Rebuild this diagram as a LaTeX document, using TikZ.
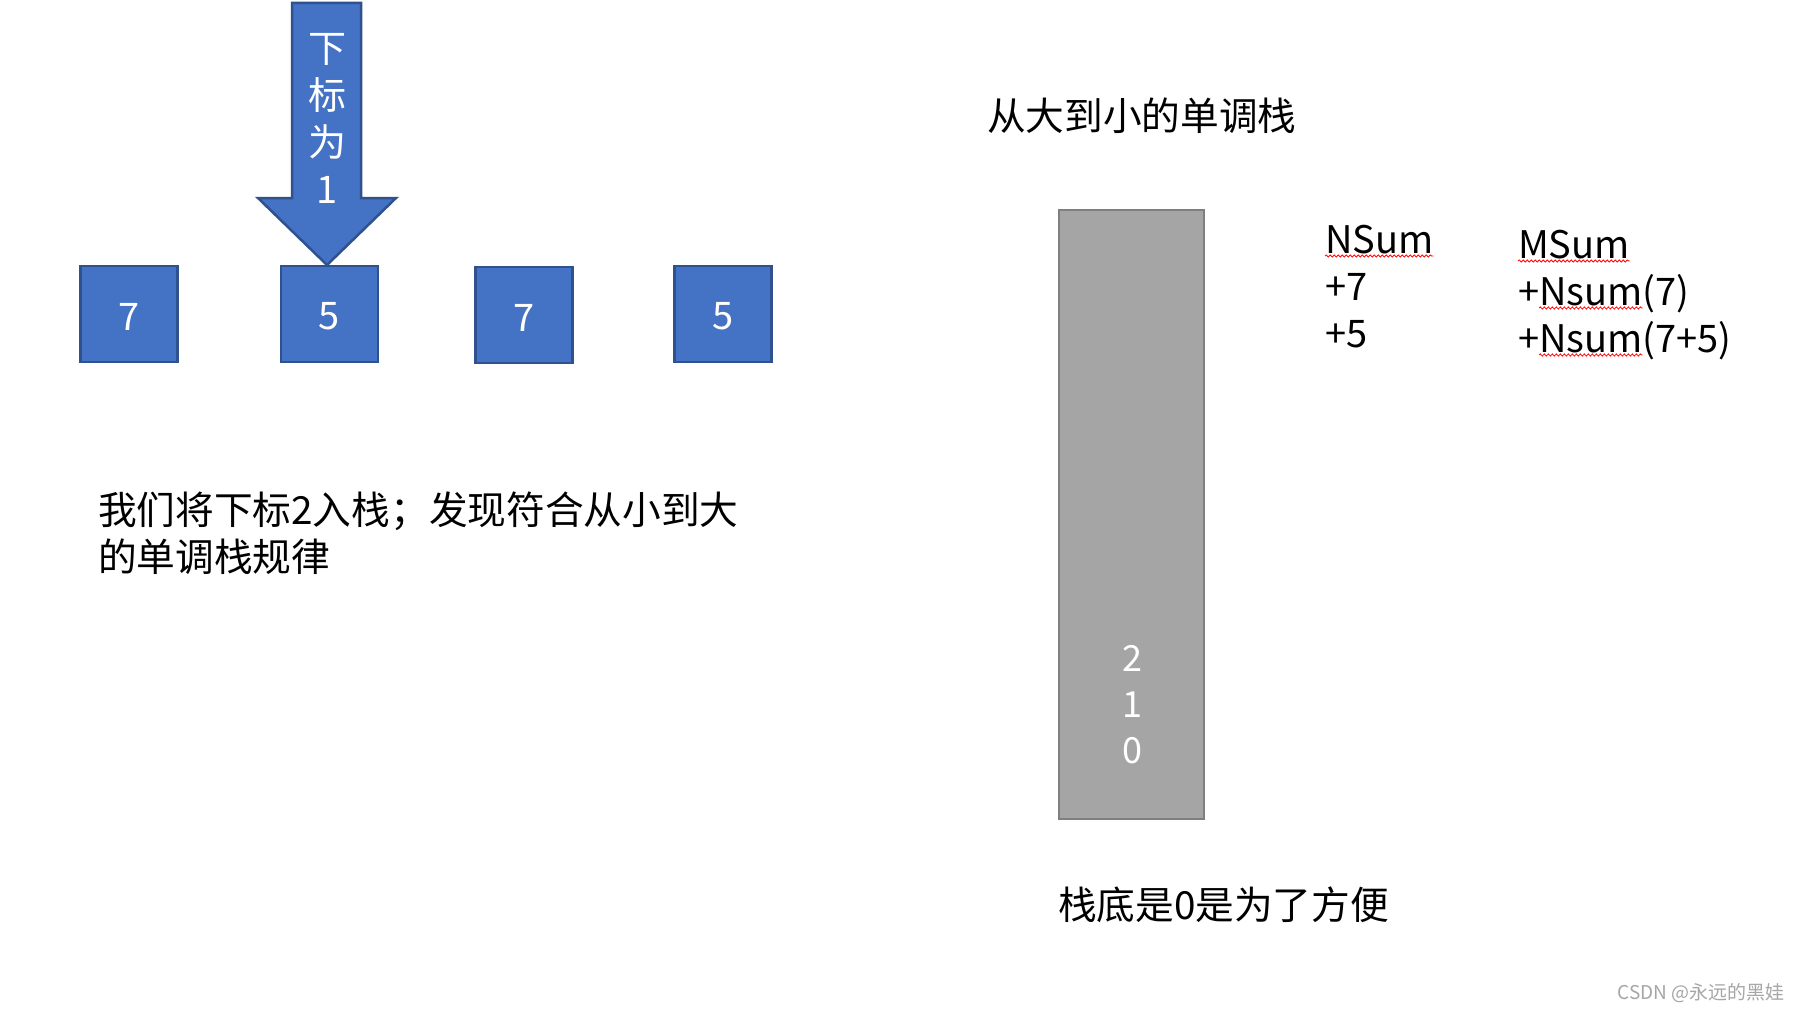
\documentclass[tikz,border=0pt]{standalone}
\usepackage{fontspec}
\setmainfont{Noto Sans CJK SC}
\usetikzlibrary{decorations.pathmorphing}
\definecolor{boxblue}{HTML}{4472C4}
\definecolor{boxedge}{HTML}{2F528F}
\definecolor{stackgray}{HTML}{A5A5A5}
\definecolor{stackedge}{HTML}{7F7F7F}
\definecolor{wmgray}{HTML}{A6A6A6}
\newcommand\lowered[1]{\raisebox{-2.5pt}[\height][\depth]{#1}}
\begin{document}
\begin{tikzpicture}[x=1pt,y=-1pt,
  numbox/.style={draw=boxedge,fill=boxblue,line width=2.5pt,minimum width=97pt,minimum height=96pt,inner sep=0pt,text=white,font=\fontsize{38}{47}\selectfont},
  txt/.style={inner sep=0pt,outer sep=0pt,font=\fontsize{38}{47}\selectfont,text=black},
  cjktxt/.style={inner sep=0pt,outer sep=0pt,font=\fontsize{38.7}{47}\selectfont,text=black},
  wtxt/.style={inner sep=0pt,outer sep=0pt,font=\fontsize{37}{46}\selectfont,text=white,align=center},
  wavy/.style={draw=red,line width=0.8pt,decorate,decoration={snake,amplitude=1.1pt,segment length=4pt}}
]
\path[use as bounding box,fill=white] (0,0) rectangle (1803,1014);

% value boxes
\node[numbox] (b1) at (129,314) {\lowered{7}};
\node[numbox] (b2) at (329.5,314) {\lowered{5}};
\node[numbox] (b3) at (524,315) {\lowered{7}};
\node[numbox] (b4) at (723,314) {\lowered{5}};

% index arrow
\coordinate (tip) at (327,265);
\draw[fill=boxblue,draw=boxedge,line width=2.5pt,line join=miter]
  (292,3) -- (361,3) -- (361,198) -- (396,198) -- (tip) -- (258,198) -- (292,198) -- cycle;
\node[wtxt,font=\fontsize{38}{47}\selectfont] (arrtxt) at (327,118) {下\\标\\为\\1};

% left explanation
\node[cjktxt,anchor=west,align=left] (expl) at (98,533) {我们将下标2入栈；发现符合从小到大\\的单调栈规律};

% title
\node[cjktxt,anchor=west] (title) at (987,116) {从大到小的单调栈};

% stack
\node[draw=stackedge,fill=stackgray,line width=2.5pt,minimum width=145pt,minimum height=609pt,inner sep=0pt] (stk) at (1131.5,514.5) {};
\node[wtxt,font=\fontsize{36}{46}\selectfont] (stknum) at (1132,705) {2\\1\\0};

% bottom note
\node[cjktxt,anchor=west] (note) at (1058,905) {栈底是0是为了方便};

% NSum column
\node[txt,anchor=base west] (ns) at (1325,253) {NSum};
\node[txt,anchor=base west] (n7) at (1325,300) {+7};
\node[txt,anchor=base west] (n5) at (1325,347) {+5};

% MSum column
\node[txt,anchor=base west] (ms) at (1518,258) {MSum};
\node[txt,anchor=base west] (m1a) at (1518,305) {+};
\node[txt,anchor=base west] (m1b) at (m1a.base east) {Nsum};
\node[txt,anchor=base west] (m1c) at (m1b.base east) {(7)};
\node[txt,anchor=base west] (m2a) at (1518,352) {+};
\node[txt,anchor=base west] (m2b) at (m2a.base east) {Nsum};
\node[txt,anchor=base west] (m2c) at (m2b.base east) {(7+5)};

% spell-check underlines
\draw[wavy] ([yshift=-3pt]ns.base west) -- ([yshift=-3pt]ns.base east);
\draw[wavy] ([yshift=-3pt]ms.base west) -- ([yshift=-3pt]ms.base east);
\draw[wavy] ([yshift=-3pt]m1b.base west) -- ([yshift=-3pt]m1b.base east);
\draw[wavy] ([yshift=-3pt]m2b.base west) -- ([yshift=-3pt]m2b.base east);

% watermark
\node[inner sep=0pt,anchor=east,text=wmgray,font=\fontsize{19}{19}\selectfont] (wm) at (1785,993) {CSDN @永远的黑娃};
\end{tikzpicture}
\end{document}
